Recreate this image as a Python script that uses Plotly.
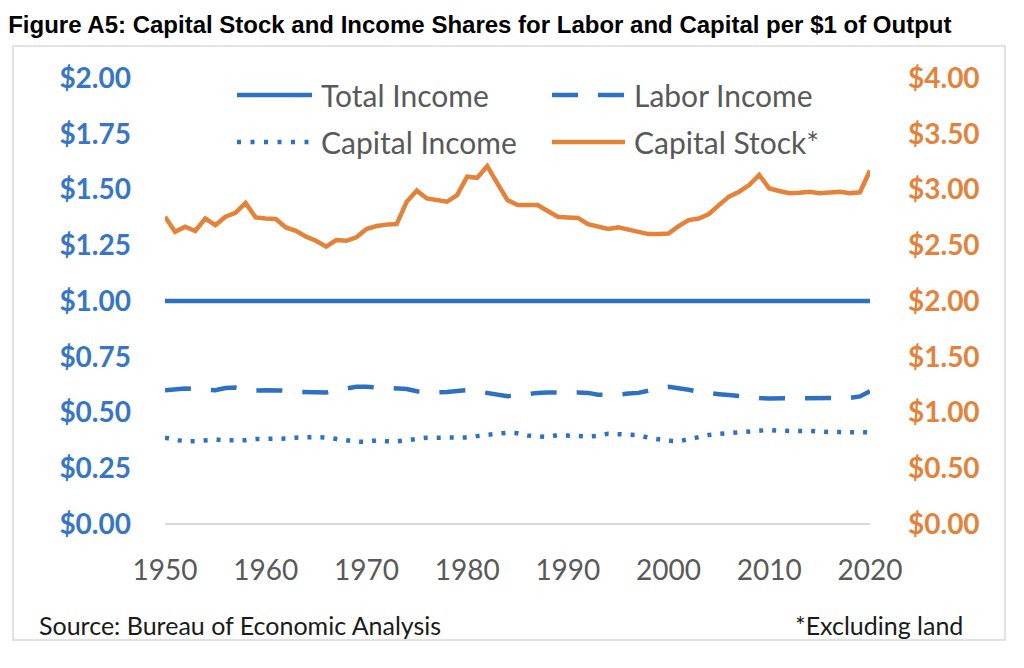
import plotly.graph_objects as go

years = list(range(1950, 2021))

total_income = [1.0] * len(years)

labor_income = [
    0.600, 0.603, 0.608, 0.605, 0.600, 0.600, 0.610, 0.612, 0.605, 0.598,
    0.600, 0.600, 0.598, 0.592, 0.590, 0.590, 0.590, 0.600, 0.610, 0.615,
    0.615, 0.612, 0.610, 0.610, 0.605, 0.595, 0.592, 0.590, 0.592, 0.598,
    0.600, 0.595, 0.588, 0.578, 0.573, 0.578, 0.585, 0.588, 0.590, 0.592,
    0.590, 0.590, 0.588, 0.580, 0.578, 0.580, 0.585, 0.588, 0.598, 0.610,
    0.615, 0.610, 0.602, 0.592, 0.585, 0.582, 0.578, 0.572, 0.568, 0.565,
    0.563, 0.563, 0.565, 0.567, 0.567, 0.567, 0.567, 0.567, 0.565, 0.572,
    0.595,
]

capital_income = [
    0.387, 0.376, 0.370, 0.371, 0.375, 0.379, 0.375, 0.374, 0.376, 0.381,
    0.381, 0.381, 0.383, 0.387, 0.389, 0.390, 0.388, 0.381, 0.376, 0.369,
    0.368, 0.375, 0.371, 0.370, 0.376, 0.382, 0.387, 0.387, 0.387, 0.387,
    0.388, 0.394, 0.401, 0.405, 0.409, 0.407, 0.397, 0.392, 0.390, 0.399,
    0.396, 0.391, 0.392, 0.396, 0.405, 0.403, 0.402, 0.398, 0.387, 0.378,
    0.373, 0.371, 0.381, 0.389, 0.399, 0.404, 0.407, 0.408, 0.412, 0.417,
    0.422, 0.418, 0.416, 0.417, 0.418, 0.413, 0.412, 0.412, 0.412, 0.411,
    0.411,
]

capital_stock = [
    2.756, 2.620, 2.667, 2.628, 2.740, 2.680, 2.756, 2.790, 2.880, 2.750,
    2.740, 2.735, 2.660, 2.630, 2.577, 2.540, 2.487, 2.547, 2.540, 2.571,
    2.646, 2.672, 2.685, 2.690, 2.890, 2.990, 2.920, 2.906, 2.890, 2.950,
    3.115, 3.105, 3.210, 3.055, 2.906, 2.860, 2.860, 2.860, 2.807, 2.756,
    2.750, 2.745, 2.690, 2.670, 2.646, 2.660, 2.637, 2.613, 2.600, 2.600,
    2.605, 2.672, 2.726, 2.740, 2.780, 2.860, 2.936, 2.980, 3.040, 3.130,
    3.010, 2.987, 2.966, 2.970, 2.980, 2.966, 2.975, 2.980, 2.966, 2.975,
    3.170,
]

left_ticks = [0, 0.25, 0.5, 0.75, 1.0, 1.25, 1.5, 1.75, 2.0]
right_ticks = [0, 0.5, 1.0, 1.5, 2.0, 2.5, 3.0, 3.5, 4.0]
x_ticks = [1950, 1960, 1970, 1980, 1990, 2000, 2010, 2020]

BLUE = "#2F71C1"
BLUE_LBL = "#3676C4"
ORANGE = "#E5823A"
GRAY = "#595959"
FONT = "Lato"

fig = go.Figure()
fig.add_trace(go.Scatter(x=years, y=total_income, mode="lines", name="Total Income",
                         line=dict(color=BLUE, width=4.5)))
fig.add_trace(go.Scatter(x=years, y=labor_income, mode="lines", name="Labor Income",
                         line=dict(color=BLUE, width=4.5, dash="26px,20px")))
fig.add_trace(go.Scatter(x=years, y=capital_income, mode="lines", name="Capital Income",
                         line=dict(color=BLUE, width=4.5, dash="4px,9px")))
fig.add_trace(go.Scatter(x=years, y=capital_stock, mode="lines", name="Capital Stock*",
                         line=dict(color=ORANGE, width=4.5), yaxis="y2"))

W, H = 1024, 668
L, R, T, B = 165, 870, 78, 524
pw, ph = R - L, B - T

def px(x):
    return (x - L) / pw

def py(y):
    return (B - y) / ph

shapes = []
shapes.append(dict(type="rect", xref="paper", yref="paper",
                   x0=px(13), x1=px(1005), y0=py(640), y1=py(46),
                   line=dict(color="#D9D9D9", width=1.5), fillcolor="rgba(0,0,0,0)", layer="below"))

annotations = []
legend_items = [
    ("Total Income", dict(color=BLUE, width=4.5), 237, 312, 319, 95),
    ("Labor Income", dict(color=BLUE, width=4.5, dash="26px,20px"), 552, 625, 632, 95),
    ("Capital Income", dict(color=BLUE, width=4.5, dash="4px,9.5px"), 237, 312, 319, 142),
    ("Capital Stock*", dict(color=ORANGE, width=4.5), 552, 625, 632, 142),
]
for text, ln, x0, x1, tx, yy in legend_items:
    shapes.append(dict(type="line", xref="paper", yref="paper",
                       x0=px(x0), x1=px(x1), y0=py(yy), y1=py(yy), line=ln))
    annotations.append(dict(text=text, xref="paper", yref="paper", x=px(tx), y=py(yy),
                            xanchor="left", yanchor="middle", showarrow=False,
                            font=dict(family=FONT, size=30, color=GRAY)))

annotations.append(dict(text="Source: Bureau of Economic Analysis", xref="paper", yref="paper",
                        x=px(37), y=py(625), xanchor="left", yanchor="middle", showarrow=False,
                        font=dict(family=FONT, size=25, color="#1a1a1a")))
annotations.append(dict(text="*Excluding land", xref="paper", yref="paper",
                        x=px(965), y=py(625), xanchor="right", yanchor="middle", showarrow=False,
                        font=dict(family=FONT, size=25, color="#1a1a1a")))

fig.update_layout(
    width=W, height=H,
    margin=dict(l=L, r=W - R, t=T, b=H - B, pad=0),
    paper_bgcolor="white", plot_bgcolor="white",
    showlegend=False,
    title=dict(text="<b>Figure A5: Capital Stock and Income Shares for Labor and Capital per $1 of Output</b>",
               x=0.008, xanchor="left", y=1 - 25 / H, yanchor="middle",
               font=dict(family="Liberation Sans, Arial", size=24, color="black")),
    xaxis=dict(range=[1950, 2020], tickvals=x_ticks, showgrid=False, zeroline=False,
               showline=False, ticks="", ticklabelstandoff=27,
               tickfont=dict(family=FONT, size=28, color=GRAY)),
    yaxis=dict(range=[0, 2], tickvals=left_ticks, tickformat="$.2f", showgrid=False,
               zeroline=True, zerolinecolor="#D9D9D9", zerolinewidth=1.5,
               showline=False, ticks="", ticklabelstandoff=33,
               tickfont=dict(family=FONT, size=28, color=BLUE_LBL, weight="bold")),
    yaxis2=dict(range=[0, 4], tickvals=right_ticks, tickformat="$.2f", overlaying="y", side="right",
                showgrid=False, zeroline=False, showline=False, ticks="", ticklabelstandoff=37,
                tickfont=dict(family=FONT, size=28, color=ORANGE, weight="bold")),
    shapes=shapes,
    annotations=annotations,
)

fig.write_html("out.html", config={"displayModeBar": False},
               post_script="document.body.style.margin='0';document.body.style.overflow='hidden';")
